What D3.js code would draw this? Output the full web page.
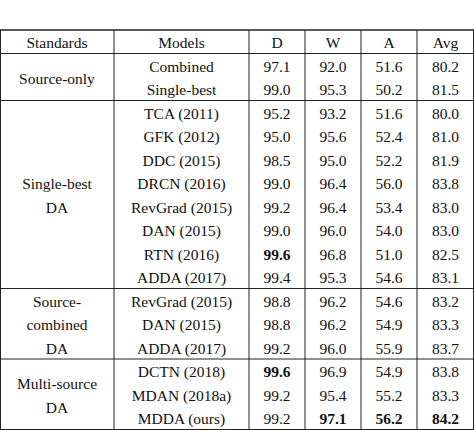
<!DOCTYPE html>
<html><head><meta charset="utf-8">
<script src="https://cdn.jsdelivr.net/npm/d3@7"></script>
<style>body{margin:0;background:#fff}</style>
</head><body>
<svg id="chart" width="474" height="430"></svg>
<script>
const columns = ["Standards", "Models", "D", "W", "A", "Avg"];
const groups = [
  { name: ["Source-only"], size: 2 },
  { name: ["Single-best", "DA"], size: 8 },
  { name: ["Source-", "combined", "DA"], size: 3 },
  { name: ["Multi-source", "DA"], size: 3 }
];
const models = ["Combined", "Single-best", "TCA (2011)", "GFK (2012)", "DDC (2015)", "DRCN (2016)",
  "RevGrad (2015)", "DAN (2015)", "RTN (2016)", "ADDA (2017)", "RevGrad (2015)", "DAN (2015)",
  "ADDA (2017)", "DCTN (2018)", "MDAN (2018a)", "MDDA (ours)"];
const valD = [97.1, 99.0, 95.2, 95.0, 98.5, 99.0, 99.2, 99.0, 99.6, 99.4, 98.8, 98.8, 99.2, 99.6, 99.2, 99.2];
const valW = [92.0, 95.3, 93.2, 95.6, 95.0, 96.4, 96.4, 96.0, 96.8, 95.3, 96.2, 96.2, 96.0, 96.9, 95.4, 97.1];
const valA = [51.6, 50.2, 51.6, 52.4, 52.2, 56.0, 53.4, 54.0, 51.0, 54.6, 54.6, 54.9, 55.9, 54.9, 55.2, 56.2];
const valAvg = [80.2, 81.5, 80.0, 81.0, 81.9, 83.8, 83.0, 83.0, 82.5, 83.1, 83.2, 83.3, 83.7, 83.8, 83.3, 84.2];
const bold = [[8, 0], [13, 0], [15, 1], [15, 2], [15, 3]];

const svg = d3.select("#chart");
const colEdges = [0, 114, 249, 305, 361, 417, 474];
const tableTop = 30, headH = 23.5, rowH = 23.5;
const y = d3.scaleLinear().domain([0, models.length]).range([tableTop + headH, tableTop + headH + rowH * models.length]);
const font = "'Liberation Serif','DejaVu Serif',serif";
const txt = (x, yy, s, b) => svg.append("text").attr("x", x).attr("y", yy).attr("text-anchor", "middle")
  .attr("font-family", font).attr("font-size", 15.5).attr("font-weight", b ? "bold" : "normal")
  .attr("fill", "#111").attr("dominant-baseline", "central").text(s);

columns.forEach((c, i) => txt((colEdges[i] + colEdges[i + 1]) / 2, tableTop + headH / 2 + 1, c));
const series = [valD, valW, valA, valAvg];
models.forEach((m, r) => {
  const cy = (y(r) + y(r + 1)) / 2 + 1;
  txt((colEdges[1] + colEdges[2]) / 2, cy, m);
  series.forEach((s, k) => {
    const b = bold.some(([rr, kk]) => rr === r && kk === k);
    txt((colEdges[k + 2] + colEdges[k + 3]) / 2, cy, s[r].toFixed(1), b);
  });
});
let start = 0;
groups.forEach(g => {
  const mid = (y(start) + y(start + g.size)) / 2;
  const n = g.name.length;
  g.name.forEach((t, i) => txt(57, mid + (i - (n - 1) / 2) * rowH + 1, t));
  start += g.size;
});

const line = (x1, y1, x2, y2, w) => svg.append("line").attr("x1", x1).attr("y1", y1).attr("x2", x2).attr("y2", y2)
  .attr("stroke", "#222").attr("stroke-width", w || 1);
const bottom = y(models.length);
line(0, tableTop, 474, tableTop, 1.5);
line(0, tableTop + headH, 474, tableTop + headH);
start = 0;
groups.forEach(g => { start += g.size; line(0, y(start), 474, y(start)); });
colEdges.forEach(x => line(Math.min(Math.max(x, 0.5), 473.5), tableTop, Math.min(Math.max(x, 0.5), 473.5), bottom));
</script>
</body></html>
